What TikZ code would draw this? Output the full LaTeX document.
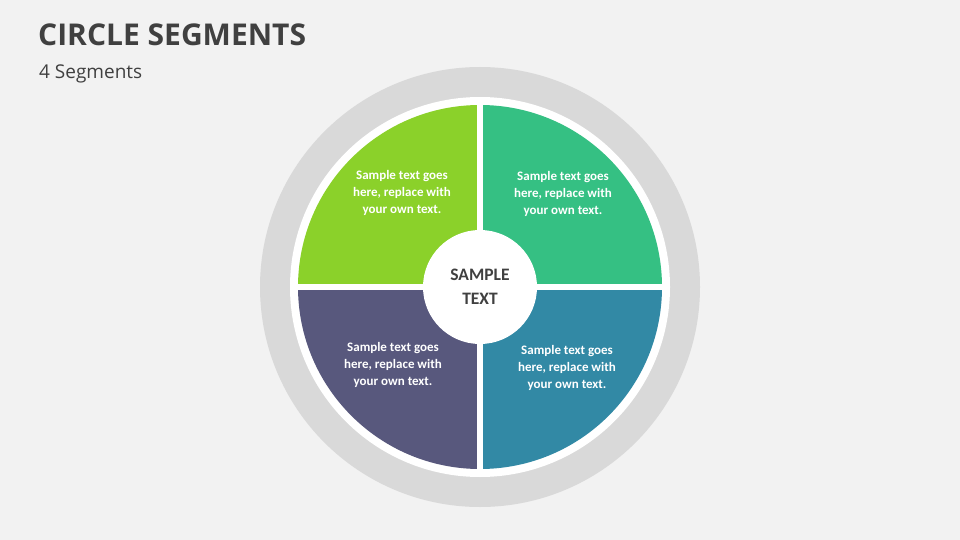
\documentclass[tikz,border=0pt]{standalone}
\usepackage{fontspec}
\setmainfont{Carlito}
\newfontfamily\titlefont{Open Sans}
\definecolor{bg}{HTML}{F2F2F2}
\definecolor{ring}{HTML}{D9D9D9}
\definecolor{cA}{HTML}{8BD12A}
\definecolor{cB}{HTML}{35C083}
\definecolor{cC}{HTML}{58587D}
\definecolor{cD}{HTML}{3289A5}
\definecolor{tx}{HTML}{404040}
\tikzset{segtext/.style={text=white,font=\bfseries\fontsize{13}{17}\selectfont,align=center}}
\begin{document}
\begin{tikzpicture}[x=1pt,y=-1pt]
\fill[bg] (0,0) rectangle (960,540);
\useasboundingbox (0,0) rectangle (960,540);
\coordinate (c) at (480,287);
\fill[ring] (c) circle[radius=220];
\fill[white] (c) circle[radius=190];
\fill[cA] (c) -- ++(-182,0) arc[start angle=180,end angle=270,radius=182] -- cycle;
\fill[cB] (c) -- ++(0,-182) arc[start angle=270,end angle=360,radius=182] -- cycle;
\fill[cD] (c) -- ++(182,0) arc[start angle=0,end angle=90,radius=182] -- cycle;
\fill[cC] (c) -- ++(0,182) arc[start angle=90,end angle=180,radius=182] -- cycle;
\draw[white,line width=6pt] (296,287) -- (664,287);
\draw[white,line width=6pt] (480,100) -- (480,474);
\node[circle,fill=white,minimum size=114pt,inner sep=0pt,text=tx,align=center,font=\bfseries\fontsize{17.5}{24}\selectfont] (ctr) at (c) {SAMPLE\\TEXT};
\node[segtext] (ta) at (402,193) {Sample text goes\\here, replace with\\your own text.};
\node[segtext] (tb) at (563,194) {Sample text goes\\here, replace with\\your own text.};
\node[segtext] (tc) at (393,365) {Sample text goes\\here, replace with\\your own text.};
\node[segtext] (td) at (567,368) {Sample text goes\\here, replace with\\your own text.};
\node[anchor=west,text=tx,font=\titlefont\bfseries\fontsize{30}{34}\selectfont,inner sep=0pt] (title) at (38,35) {CIRCLE SEGMENTS};
\node[anchor=west,text=tx,font=\titlefont\fontsize{19}{22}\selectfont,inner sep=0pt] (sub) at (39,74) {4 Segments};
\end{tikzpicture}
\end{document}
